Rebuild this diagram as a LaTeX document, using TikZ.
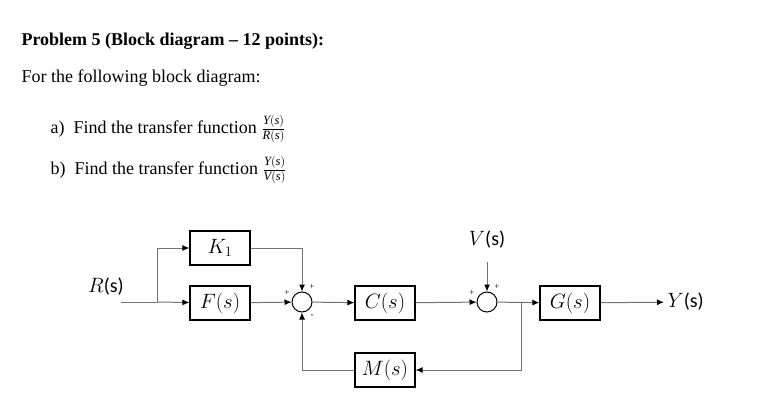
\documentclass[tikz,border=0pt]{standalone}
\usepackage{fontspec}
\usepackage{amsmath}
\setmainfont{Liberation Serif}
\newfontfamily\myCal{Carlito}
\usetikzlibrary{arrows.meta}
\begin{document}
\begin{tikzpicture}[x=1pt,y=-1pt,
  blk/.style={draw,line width=1.2pt,minimum width=60pt,minimum height=34pt,inner sep=0pt,font=\fontsize{20}{24}\selectfont},
  sum/.style={draw,line width=1pt,circle,minimum size=20pt,inner sep=0pt},
  wire/.style={draw=black!55,line width=1pt},
  arr/.style={wire,-{Latex[length=7pt,width=6pt,color=black]}},
  sg/.style={font=\fontsize{9}{10}\selectfont,inner sep=0.5pt},
  txt/.style={anchor=west,font=\fontsize{18}{22}\selectfont}]
\useasboundingbox (0,0) rectangle (762,414);
\node[txt,font=\bfseries\fontsize{18}{22}\selectfont] (t1) at (18,41) {Problem 5 (Block diagram -- 12 points):};
\node[txt] (t2) at (18,78) {For the following block diagram:};
\node[txt] (qa) at (47,129) {a)\enspace Find the transfer function $\frac{\mathit{Y(s)}}{\mathit{R(s)}}$};
\node[txt] (qb) at (47,170) {b)\enspace Find the transfer function $\frac{\mathit{Y(s)}}{\mathit{V(s)}}$};

\node[blk] (K) at (220,248) {$K_1$};
\node[blk] (F) at (220,303) {$F(s)$};
\node[sum] (S1) at (302,302) {};
\node[blk] (C) at (385,303) {$C(s)$};
\node[sum] (S2) at (487,302) {};
\node[blk] (G) at (570,303) {$G(s)$};
\node[blk] (M) at (385,370) {$M(s)$};
\node[font=\myCal\fontsize{20}{24}\selectfont] (R) at (106,287) {$R$(s)};
\node[font=\myCal\fontsize{20}{24}\selectfont] (V) at (487,240) {$V$(s)};
\node[font=\myCal\fontsize{20}{24}\selectfont,anchor=west] (Y) at (664,302) {$Y$(s)};
\coordinate (in) at (121,302);
\coordinate (sp) at (157,302);
\coordinate (br) at (521,302);
\coordinate (vt) at (487,262);

\draw[wire] (in) -- (sp);
\draw[arr] (sp) -- (F);
\draw[arr] (sp) |- (K);
\draw[arr] (F) -- (S1);
\draw[arr] (K) -| (S1);
\draw[arr] (S1) -- (C);
\draw[arr] (C) -- (S2);
\draw[arr] (vt) -- (S2);
\draw[arr] (S2) -- (G);
\draw[arr] (G) -- (Y);
\draw[arr] (br) |- (M);
\draw[arr] (M) -| (S1);

\node[sg] (p1) at (287,293) {+};
\node[sg] (p2) at (312,287) {+};
\node[sg] (m1) at (312,316) {-};
\node[sg] (p3) at (472,293) {+};
\node[sg] (p4) at (497,287) {+};
\end{tikzpicture}
\end{document}
